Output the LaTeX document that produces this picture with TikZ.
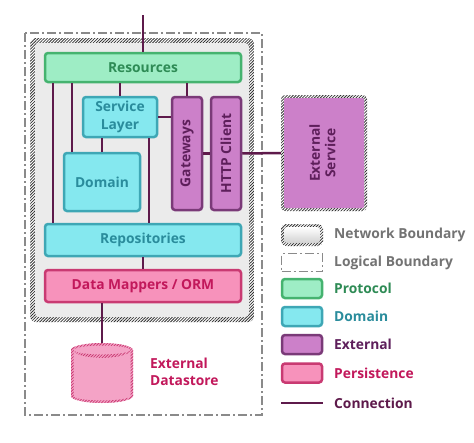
\documentclass[tikz,border=0pt]{standalone}
\usepackage{fontspec}
\setmainfont{Open Sans}
\usetikzlibrary{patterns.meta,calc}
\definecolor{protofill}{HTML}{9EEDC5}
\definecolor{protoline}{HTML}{45B36F}
\definecolor{prototext}{HTML}{2E8B55}
\definecolor{domfill}{HTML}{85E8EF}
\definecolor{domline}{HTML}{3EA7B5}
\definecolor{domtext}{HTML}{2A8C9C}
\definecolor{extfill}{HTML}{CC80C9}
\definecolor{extline}{HTML}{7A3A78}
\definecolor{exttext}{HTML}{5E1F5B}
\definecolor{persfill}{HTML}{F792BB}
\definecolor{persline}{HTML}{C93A72}
\definecolor{perstext}{HTML}{C2185B}
\definecolor{dsfill}{HTML}{F4A3C6}
\definecolor{conncol}{HTML}{5E1A4B}
\definecolor{graytext}{HTML}{737373}
\definecolor{logiccol}{HTML}{8A8A8A}
\definecolor{netfill}{HTML}{EBEBEB}
\begin{document}
\begin{tikzpicture}[x=1pt,y=-1pt,
  font=\fontsize{13.8}{17.5}\selectfont\bfseries,
  box/.style={draw, line width=2.5pt, rounded corners=3pt, inner sep=0pt, align=center},
  proto/.style={box, fill=protofill, draw=protoline, text=prototext},
  dom/.style={box, fill=domfill, draw=domline, text=domtext},
  extb/.style={box, fill=extfill, draw=extline, text=exttext},
  pers/.style={box, fill=persfill, draw=persline, text=perstext},
  conn/.style={draw=conncol, line width=2.5pt},
  hatch/.style={pattern={Lines[angle=45,distance=2.1pt,line width=0.8pt]}, pattern color=#1},
  hatch/.default={black!80},
  logic/.style={draw=logiccol, line width=1.4pt, dash pattern=on 9pt off 3pt on 2pt off 3pt},
  legtext/.style={anchor=west, inner sep=0pt},
]
\useasboundingbox (0,0) rectangle (474,442);
\fill[white] (0,0) rectangle (474,442);

% logical boundary
\draw[logic] (25,33) rectangle (262,415);

% network boundary
\fill[white, rounded corners=6pt] (30,38) rectangle (254,322);
\fill[hatch, rounded corners=6pt] (30,38) rectangle (254,322);
\fill[netfill, rounded corners=4pt] (35,43) rectangle (249,317);

% boxes
\node[proto, minimum width=196pt, minimum height=29pt] (res) at (143,67.5) {Resources};
\node[dom, minimum width=74pt, minimum height=40pt] (svc) at (120,117) {Service\\Layer};
\node[dom, minimum width=76pt, minimum height=58pt] (dom) at (102,182) {Domain};
\node[extb, minimum width=30pt, minimum height=113pt] (gw) at (187,153.5) {\rotatebox{90}{Gateways}};
\node[extb, minimum width=30pt, minimum height=113pt] (http) at (226,153.5) {\rotatebox{90}{HTTP Client}};
\node[dom, minimum width=196pt, minimum height=32pt] (repo) at (143,240) {Repositories};
\node[pers, minimum width=196pt, minimum height=32pt] (dm) at (143,286) {Data Mappers / ORM};

% external service
\node[fill=white, rounded corners=4pt, minimum width=86pt, minimum height=116pt, inner sep=0pt, text=exttext,
  path picture={
    \fill[hatch] (path picture bounding box.south west) rectangle (path picture bounding box.north east);
    \fill[extfill, rounded corners=2pt] ($(path picture bounding box.north west)+(3,3)$) rectangle ($(path picture bounding box.south east)+(-3,-3)$);
  }] (ext) at (324,153) {\rotatebox{90}{\begin{tabular}{@{}c@{}}External\\[-2pt]Service\end{tabular}}};

% datastore cylinder
\coordinate (dstop) at (102,343);
\fill[dsfill] (71,350) -- (71,396) arc[start angle=180, end angle=0, x radius=31, y radius=7]
  -- (133,350) arc[start angle=0, end angle=-180, x radius=31, y radius=7] -- cycle;
\fill[hatch=persline, even odd rule]
  (71,350) -- (71,396) arc[start angle=180, end angle=0, x radius=31, y radius=7]
  -- (133,350) arc[start angle=0, end angle=-180, x radius=31, y radius=7] -- cycle
  (102,350) ellipse [x radius=28.5, y radius=4.5]
  (73.5,350) arc[start angle=180, end angle=0, x radius=28.5, y radius=7.8]
  -- (130.5,396) arc[start angle=0, end angle=180, x radius=28.5, y radius=4.5] -- cycle;
\node[anchor=west, align=left, text=perstext, inner sep=0pt] (dslabel) at (150,372) {External\\Datastore};

% connections
\coordinate (top) at (143,15);
\coordinate (c1) at (53,0);
\coordinate (c2) at (72,0);
\coordinate (c5) at (102,0);
\coordinate (c6) at (149,0);
\draw[conn] (top) -- (res.north);
\draw[conn] (res.south -| c1) -- (repo.north -| c1);
\draw[conn] (res.south -| c2) -- (dom.north -| c2);
\draw[conn] (res.south -| svc.north) -- (svc.north);
\draw[conn] (res.south -| gw.north) -- (gw.north);
\draw[conn] (svc.east) -- (svc.east -| gw.west);
\draw[conn] (svc.south -| c5) -- (dom.north -| c5);
\draw[conn] (svc.south -| c6) -- (repo.north -| c6);
\draw[conn] (gw.east) -- (http.west);
\draw[conn] (http.east) -- (ext.west);
\draw[conn] (repo.south) -- (dm.north);
\draw[conn] (dm.south -| c5) -- (dstop);

% legend
\node[fill=white, rounded corners=5pt, minimum width=42pt, minimum height=22pt, inner sep=0pt,
  path picture={
    \fill[hatch] (path picture bounding box.south west) rectangle (path picture bounding box.north east);
    \shade[top color=white, bottom color=black!18, rounded corners=3pt] ($(path picture bounding box.north west)+(3,3)$) rectangle ($(path picture bounding box.south east)+(-3,-3)$);
  }] (lnet) at (302,235) {};
\node[legtext, text=graytext] (lnett) at (334,235) {Network Boundary};
\node[logic, minimum width=41pt, minimum height=18pt, inner sep=0pt] (llog) at (302,262.5) {};
\node[legtext, text=graytext] (llogt) at (334,262.5) {Logical Boundary};
\node[proto, minimum width=40pt, minimum height=19pt] (lpro) at (302,288.5) {};
\node[legtext, text=prototext] (lprot) at (334,288.5) {Protocol};
\node[dom, minimum width=40pt, minimum height=19pt] (ldom) at (302,316.5) {};
\node[legtext, text=domtext] (ldomt) at (334,316.5) {Domain};
\node[extb, minimum width=40pt, minimum height=19pt] (lext) at (302,344.5) {};
\node[legtext, text=exttext] (lextt) at (334,344.5) {External};
\node[pers, minimum width=40pt, minimum height=19pt] (lper) at (302,373) {};
\node[legtext, text=perstext] (lpert) at (334,373) {Persistence};
\coordinate (lc1) at (281,403);
\coordinate (lc2) at (323,403);
\draw[conn] (lc1) -- (lc2);
\node[legtext, text=conncol] (lcont) at (334,403) {Connection};
\end{tikzpicture}
\end{document}
